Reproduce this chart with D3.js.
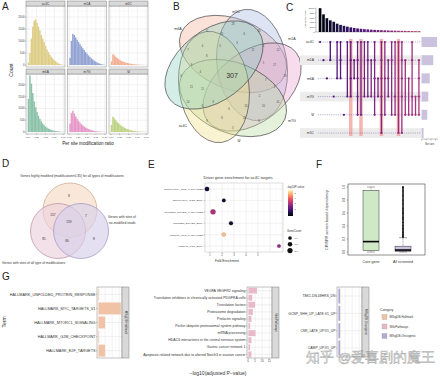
<!DOCTYPE html>
<html><head><meta charset="utf-8">
<script src="https://cdn.jsdelivr.net/npm/d3@7"></script>
<style>body{margin:0;background:#fff}svg{display:block}text{font-family:"Liberation Sans",Arial,sans-serif}</style>
</head><body><svg id="c" width="440" height="378"></svg>
<script>
// ---------------- DATA ----------------
// Panel A
const modNames = ["ac4C","m1A","m5C","m6A","m7G","Ψ"];
const histAc4C = [100,500,1100,1600,1850,1900,1750,1600,1450,1250,1100,950,800,650,540,440,350,280,210,160,110,75,45,25,10];
const histM1A  = [300,1000,1300,1250,1150,1050,960,870,780,700,620,540,470,400,340,280,230,185,145,110,80,55,35,20,8];
const histM5C  = [150,450,400,340,290,245,205,170,145,120,100,85,70,58,47,38,30,23,17,12,9,6,4,2,1];
const histM6A  = [1400,2400,2050,1650,1300,1050,850,690,560,450,360,290,230,185,145,115,90,70,55,42,32,23,15,9,4];
const histM7G  = [350,800,900,780,660,560,470,395,330,275,228,188,154,125,100,80,63,49,37,28,20,14,9,5,2];
const histPsi  = [300,650,580,500,430,365,310,262,220,184,153,126,103,84,68,54,43,33,25,19,14,10,6,3,1];
const histBinWidth = 0.04;
const countTicks = [0,500,1000,1500,2000];
const ratioTicks = [0,0.25,0.5,0.75,1];
const ratioTickLabels = ["0.00","0.25","0.50","0.75","1.00"];
// Panel B
const vennSets = ["m5C","m1A","m7G","Ψ","ac4C","m6A"];
const vennCenterCount = 307;
const vennSmallCounts = ["28","35","12","19","41","8","5","9","14","3","7","11","6","4","17","2","10","13","8","6","21","9","4","15","3","12","5","7","2","16","6","9","11","4","8","5"];
// Panel C
const upsetSets = ["ac4C","m1A","m6A","m7G","Ψ","m5C"];
const upsetSetSizes = [16500,12500,8800,7200,6100,2200];
const upsetMembers = ["0","1","2","01","3","02","012","4","03","0123","12","01234","04","023","013","13","0124","23","012345","024","123","014","034","05","01235","14","24","0134","34","1234"];
const upsetSizes = [10000,7400,5800,4900,4300,3500,3000,2600,2250,1950,1700,1500,1350,1200,1080,980,900,830,770,710,660,610,570,530,490,460,430,400,370,350];
const upsetTicks = [0,2000,4000,6000,8000,10000];
// Panel D
const dCounts = [["8","top"],["157","topleft"],["7","topright"],["159","all"],["81","left"],["80","leftright"],["8","right"]];
// Panel E
const eTerms = ["ENRICHCITY_DON_PANCANCER","ENRICHCITY_DON_BRCA","INTOGEN_DRIVER_PANCANCER","INTOGEN_DRIVER_BRCA","COSMIC_CGC_PANCANCER","COSMIC_CGC_BRCA"];
const eFold = [0.75,2.15,1.25,2.75,2.15,6.75];
const eLogP = [1.1,1.0,3.0,1.1,4.9,2.7];
const eCount = [1.5,1.0,2.0,1.2,1.2,1.0];
const eFoldTicks = [1,2,3,4,5];
const eColorTicks = [2,3,4,5];
const eSizeTicks = [1.0,1.5,2.0];
// Panel F
const fGroups = ["Core gene","All screened"];
const fStats = [ {lo:0.0,q1:0.02,med:0.16,q3:0.95,hi:1.0}, {lo:0.0,q1:0.01,med:0.03,q3:0.09,hi:0.22} ];
const fOutliers = [0.23,0.24,0.25,0.27,0.28,0.30,0.31,0.33,0.35,0.36,0.38,0.40,0.41,0.43,0.45,0.46,0.48,0.50,0.52,0.53,0.55,0.57,0.59,0.60,0.62,0.64,0.66,0.67,0.69,0.71,0.73,0.75,0.77,0.79,0.81,0.83,0.85,0.87,0.89,0.91,0.93,0.95,0.97,0.99,1.0];
const fTicks = [0,0.2,0.4,0.6,0.8,1.0];
// Panel G
const gHallTerms = ["HALLMARK_UNFOLDED_PROTEIN_RESPONSE","HALLMARK_MYC_TARGETS_V1","HALLMARK_MTORC1_SIGNALING","HALLMARK_G2M_CHECKPOINT","HALLMARK_E2F_TARGETS"];
const gHallVals = [0.8,16.3,5.0,0.8,5.0];
const gWikiTerms = ["VEGFA VEGFR2 signaling","Translation inhibitors in chronically activated PDGFRA cells","Translation factors","Proteasome degradation","Prolactin signaling","Parkin ubiquitin proteasomal system pathway","mRNA processing","HDAC6 interactions in the central nervous system","Gastric cancer network 1","Apoptosis related network due to altered Notch3 in ovarian cancer"];
const gWikiVals = [6.4,3.0,5.0,3.5,2.5,1.5,5.5,2.5,1.5,2.5];
const gOncoTerms = ["TBK1.DN.48HRS_DN","GCNP_SHH_UP_LATE.V1_UP","CSR_LATE_UP.V1_UP","CAMP_UP.V1_UP"];
const gOncoVals = [1.6,1.6,1.6,1.6];
const gTicks = [0,5,10,15];
const gCategories = ["MSigDB-Hallmark","WikiPathways","MSigDB-Oncogenic"];

// ---------------- DRAW ----------------
const svg = d3.select("#c");
function T(g,x,y,s,size,o={}){
  const t=g.append("text").attr("x",x).attr("y",y).text(s).attr("font-size",size)
    .attr("fill",o.fill||"#222").attr("text-anchor",o.anchor||"start");
  if(o.rot!==undefined) t.attr("transform",`rotate(${o.rot},${x},${y})`);
  if(o.weight) t.attr("font-weight",o.weight);
  if(o.base) t.attr("dominant-baseline",o.base);
  return t;
}
[["A",2,10],["B",173,10],["C",286,11],["D",2,167],["E",148,168],["F",316,168],["G",2,280]]
  .forEach(d=>T(svg,d[1],d[2],d[0],10));

// ===== Panel A =====
(function(){
  const g=svg.append("g");
  const hists=[histAc4C,histM1A,histM5C,histM6A,histM7G,histPsi];
  const cols=["#dccb82","#8ea0d2","#f2ad8f","#86bfa5","#e593c6","#bcd27f"];
  const colX=[26,67.5,109], pw=39;
  const stripY=[1,69], top=[6,74], bot=[67,134];
  modNames.forEach((m,i)=>{
    const c=i%3, r=Math.floor(i/3);
    const x0=colX[c];
    const x=d3.scaleLinear([-0.05,1.05],[x0,x0+pw]);
    const y=d3.scaleLinear([0,2460],[bot[r]-2,top[r]]);
    g.append("rect").attr("x",x0).attr("y",top[r]).attr("width",pw).attr("height",bot[r]-top[r]).attr("fill","#fff");
    [0.125,0.375,0.625,0.875].forEach(v=>g.append("line").attr("x1",x(v)).attr("x2",x(v)).attr("y1",top[r]).attr("y2",bot[r]).attr("stroke","#f0f0f0").attr("stroke-width",0.3));
    [250,750,1250,1750,2250].forEach(v=>g.append("line").attr("x1",x0).attr("x2",x0+pw).attr("y1",y(v)).attr("y2",y(v)).attr("stroke","#f0f0f0").attr("stroke-width",0.3));
    ratioTicks.forEach(v=>g.append("line").attr("x1",x(v)).attr("x2",x(v)).attr("y1",top[r]).attr("y2",bot[r]).attr("stroke","#e3e3e3").attr("stroke-width",0.45));
    countTicks.forEach(v=>g.append("line").attr("x1",x0).attr("x2",x0+pw).attr("y1",y(v)).attr("y2",y(v)).attr("stroke","#e3e3e3").attr("stroke-width",0.45));
    hists[i].forEach((v,b)=>{
      g.append("rect").attr("x",x(b*histBinWidth)).attr("width",x((b+1)*histBinWidth)-x(b*histBinWidth)+0.1)
        .attr("y",y(v)).attr("height",y(0)-y(v)).attr("fill",cols[i]).attr("opacity",0.95);
    });
    g.append("rect").attr("x",x0).attr("y",top[r]).attr("width",pw).attr("height",bot[r]-top[r]).attr("fill","none").attr("stroke","#8a8a8a").attr("stroke-width",0.5);
    g.append("rect").attr("x",x0).attr("y",stripY[r]).attr("width",pw).attr("height",5).attr("fill","#d9d9d9").attr("stroke","#666").attr("stroke-width",0.4);
    T(g,x0+pw/2,stripY[r]+3.8,m,3.2,{anchor:"middle",fill:"#333"});
    if(c===0){
      countTicks.forEach(v=>{
        g.append("line").attr("x1",x0-1).attr("x2",x0).attr("y1",y(v)).attr("y2",y(v)).attr("stroke","#444").attr("stroke-width",0.3);
        T(g,x0-1.5,y(v)+1,String(v),2.8,{anchor:"end",fill:"#444"});
      });
    }
    if(r===1){
      ratioTicks.forEach((v,k)=>{
        g.append("line").attr("x1",x(v)).attr("x2",x(v)).attr("y1",bot[r]).attr("y2",bot[r]+1).attr("stroke","#444").attr("stroke-width",0.3);
        T(g,x(v),bot[r]+3.6,ratioTickLabels[k],2.4,{anchor:"middle",fill:"#444"});
      });
    }
  });
  T(g,13,70,"Count",5,{anchor:"middle",rot:-90});
  T(g,88,145,"Per site modification ratio",4.6,{anchor:"middle"});
})();

// ===== Panel B =====
(function(){
  const g=svg.append("g");
  const cx=233, cy=76;
  const angles=[-90,-30,30,90,150,-150];
  const cols=["#f2b49c","#a9b7e2","#e8a3cf","#b7dba0","#f0df8a","#8fd0c0"];
  vennSets.forEach((s,i)=>{
    const a=angles[i]*Math.PI/180, d=22;
    g.append("ellipse").attr("rx",56).attr("ry",35)
      .attr("transform",`translate(${cx+d*Math.cos(a)},${cy+d*Math.sin(a)}) rotate(${angles[i]+112})`)
      .attr("fill",cols[i]).attr("fill-opacity",0.38).attr("stroke","#3a3a3a").attr("stroke-width",0.6);
  });
  const lab=[[236,13],[292,40],[292,122],[239,142],[183,127],[178,30]];
  vennSets.forEach((s,i)=>T(g,lab[i][0],lab[i][1],s,3.6,{anchor:"middle",fill:"#333"}));
  T(g,232,78,String(vennCenterCount),7,{anchor:"middle",fill:"#333"});
  vennSmallCounts.forEach((v,k)=>{
    const ring=Math.floor(k/12), idx=k%12;
    const rr=[52,43,33][ring], off=[0,15,7][ring];
    const a=(idx*30-90+off)*Math.PI/180;
    T(g,cx+rr*Math.cos(a),cy+rr*Math.sin(a)+1,v,2.6,{anchor:"middle",fill:"#444"});
  });
})();

// ===== Panel C =====
(function(){
  const g=svg.append("g");
  const idx=d3.range(upsetMembers.length);
  const x=d3.scaleBand(idx,[318,421]).padding(0.22);
  const y=d3.scaleLinear([0,10500],[32,7]);
  const col=i=>d3.interpolateMagma(0.02+0.55*i/(idx.length-1));
  const lineCol=i=>d3.interpolateMagma(0.22+0.25*i/(idx.length-1));
  const hl=[9,12,18,23];
  const rowY=d3.scalePoint(upsetSets,[42,133]);
  [1,3,5].forEach(r=>g.append("rect").attr("x",300).attr("y",rowY(upsetSets[r])-4.8).attr("width",121).attr("height",9.6).attr("fill","#ececec"));
  upsetSizes.forEach((v,i)=>g.append("rect").attr("x",x(i)).attr("width",x.bandwidth()).attr("y",y(v)).attr("height",y(0)-y(v)).attr("fill",col(i)));
  g.append("line").attr("x1",316).attr("x2",316).attr("y1",y(0)).attr("y2",y(10000)).attr("stroke","#333").attr("stroke-width",0.3);
  g.append("line").attr("x1",316).attr("x2",421).attr("y1",y(0)).attr("y2",y(0)).attr("stroke","#333").attr("stroke-width",0.3);
  upsetTicks.forEach(v=>{
    g.append("line").attr("x1",315).attr("x2",316).attr("y1",y(v)).attr("y2",y(v)).attr("stroke","#333").attr("stroke-width",0.3);
    T(g,314.5,y(v)+0.8,String(v),2.2,{anchor:"end",fill:"#333"});
  });
  T(g,306,19,"Intersection size",2.4,{anchor:"middle",rot:-90,fill:"#333"});
  hl.forEach(i=>g.append("rect").attr("x",x(i)-0.4).attr("width",x.bandwidth()+0.8).attr("y",rowY(upsetSets[0])-3).attr("height",rowY(upsetSets[5])-rowY(upsetSets[0])+6).attr("fill","#f3a29c").attr("opacity",0.8));
  upsetSets.forEach(s=>g.append("line").attr("x1",318).attr("x2",421).attr("y1",rowY(s)).attr("y2",rowY(s)).attr("stroke","#4b2a7a").attr("stroke-width",0.35).attr("stroke-dasharray","1.2,1"));
  upsetMembers.forEach((m,i)=>{
    const rows=m.split("").map(Number);
    const ys=rows.map(r=>rowY(upsetSets[r]));
    const cxp=x(i)+x.bandwidth()/2;
    g.append("line").attr("x1",cxp).attr("x2",cxp).attr("y1",d3.min(ys)).attr("y2",d3.max(ys)).attr("stroke",lineCol(i)).attr("stroke-width",1.3);
    ys.forEach(yy=>g.append("circle").attr("cx",cxp).attr("cy",yy).attr("r",1.1).attr("fill",lineCol(i)));
  });
  upsetSets.forEach(s=>T(g,314,rowY(s)+1.2,s,3.4,{anchor:"end",fill:"#333"}));
  const sx=d3.scaleLinear([0,17500],[421.5,438]);
  upsetSetSizes.forEach((v,i)=>g.append("rect").attr("x",sx(0)).attr("y",rowY(upsetSets[i])-5).attr("width",sx(v)-sx(0)).attr("height",10).attr("fill","#cbc3de"));
  g.append("line").attr("x1",sx(0)).attr("x2",438).attr("y1",139).attr("y2",139).attr("stroke","#333").attr("stroke-width",0.3);
  [0,5000,10000,15000].forEach(v=>g.append("line").attr("x1",sx(v)).attr("x2",sx(v)).attr("y1",139).attr("y2",140.5).attr("stroke","#333").attr("stroke-width",0.3));
  T(g,429.5,145,"Set size",2.6,{anchor:"middle",fill:"#333"});
})();

// ===== Panel D =====
(function(){
  const g=svg.append("g");
  const circ={top:[70,210,27,"#f6dcc6","#c9a58a"],left:[58,231,27.5,"#ecd1dd","#b48ca2"],right:[81,231,27.5,"#d7d0ea","#9d92c0"]};
  ["top","left","right"].forEach(k=>{const c=circ[k];
    g.append("circle").attr("cx",c[0]).attr("cy",c[1]).attr("r",c[2]).attr("fill",c[3]).attr("fill-opacity",0.65).attr("stroke",c[4]).attr("stroke-width",0.7);});
  const pos={top:[69,197],topleft:[53,216],topright:[86,217],all:[69,223],left:[44,240],leftright:[67,242],right:[94,240]};
  dCounts.forEach(d=>T(g,pos[d[1]][0],pos[d[1]][1],d[0],3.2,{anchor:"middle",fill:"#333"}));
  T(g,72,176.5,"Genes highly modified (modification>0.35) for all types of modifications",3.3,{anchor:"middle",fill:"#333"});
  T(g,108,218,"Genes with sites of",3.3,{fill:"#333"});
  T(g,109,224,"no-modified reads",3.3,{fill:"#333"});
  T(g,2,264,"Genes with sites of all type of modifications",3.3,{fill:"#333"});
})();

// ===== Panel E =====
(function(){
  const g=svg.append("g");
  const x0=205,x1=283,y0=183,y1=252;
  const x=d3.scaleLinear([1,5],[210,258]);
  const y=d3.scalePoint(eTerms,[189,246]);
  const color=d3.scaleSequential(v=>d3.interpolateMagma(v)).domain([0.6,5.6]);
  const rs=d3.scaleSqrt([0,2],[0,2.6]);
  g.append("rect").attr("x",x0).attr("y",y0).attr("width",x1-x0).attr("height",y1-y0).attr("fill","#fff").attr("stroke","#bdbdbd").attr("stroke-width",0.5);
  [1.5,2.5,3.5,4.5,5.5,6.5].forEach(v=>g.append("line").attr("x1",x(v)).attr("x2",x(v)).attr("y1",y0).attr("y2",y1).attr("stroke","#f2f2f2").attr("stroke-width",0.3));
  [1,2,3,4,5,6,7].forEach(v=>g.append("line").attr("x1",x(v)).attr("x2",x(v)).attr("y1",y0).attr("y2",y1).attr("stroke","#e3e3e3").attr("stroke-width",0.45));
  eTerms.forEach(t=>g.append("line").attr("x1",x0).attr("x2",x1).attr("y1",y(t)).attr("y2",y(t)).attr("stroke","#e3e3e3").attr("stroke-width",0.45));
  eTerms.forEach((t,i)=>{
    g.append("circle").attr("cx",x(eFold[i])).attr("cy",y(t)).attr("r",rs(eCount[i])).attr("fill",color(eLogP[i])).attr("stroke","#333").attr("stroke-width",0.15);
    g.append("line").attr("x1",x0-1).attr("x2",x0).attr("y1",y(t)).attr("y2",y(t)).attr("stroke","#444").attr("stroke-width",0.3);
    T(g,x0-1.5,y(t)+0.9,t,2.5,{anchor:"end",fill:"#444"});
  });
  eFoldTicks.forEach(v=>{
    g.append("line").attr("x1",x(v)).attr("x2",x(v)).attr("y1",y1).attr("y2",y1+1).attr("stroke","#444").attr("stroke-width",0.3);
    T(g,x(v),y1+3.8,String(v),2.6,{anchor:"middle",fill:"#444"});
  });
  T(g,227,262,"Fold Enrichment",3.3,{anchor:"middle",fill:"#333"});
  T(g,238,179,"Driver gene enrichment for ac4C targets",3.9,{anchor:"middle",fill:"#333"});
  T(g,287,188,"-log10P-value",2.8,{fill:"#333"});
  const defs=svg.append("defs");
  const lg=defs.append("linearGradient").attr("id","mg").attr("x1",0).attr("x2",0).attr("y1",1).attr("y2",0);
  d3.range(0,1.01,0.1).forEach(t=>lg.append("stop").attr("offset",t).attr("stop-color",d3.interpolateMagma(t*0.98)));
  const cy=d3.scaleLinear([0.6,5.6],[216,190]);
  g.append("rect").attr("x",288).attr("y",190).attr("width",5).attr("height",26).attr("fill","url(#mg)");
  eColorTicks.forEach(v=>T(g,294.5,cy(v)+0.9,String(v),2.4,{fill:"#444"}));
  T(g,287,232,"GeneCount",2.8,{fill:"#333"});
  eSizeTicks.forEach((v,i)=>{
    const yy=238+i*6.3;
    g.append("circle").attr("cx",290).attr("cy",yy).attr("r",rs(v)).attr("fill","#111");
    T(g,294.5,yy+0.9,v.toFixed(1),2.4,{fill:"#444"});
  });
})();

// ===== Panel F =====
(function(){
  const g=svg.append("g");
  const y=d3.scaleLinear([0,1],[252,187]);
  const xs=d3.scalePoint(fGroups,[371,403]);
  const fills=["#cfe8c6","#cdbfe0"];
  g.append("rect").attr("x",348).attr("y",184).attr("width",77).attr("height",71).attr("fill","none").attr("stroke","#222").attr("stroke-width",0.5);
  fTicks.forEach(v=>{
    g.append("line").attr("x1",346.5).attr("x2",348).attr("y1",y(v)).attr("y2",y(v)).attr("stroke","#222").attr("stroke-width",0.3);
    T(g,344.5,y(v),v.toFixed(1),2.8,{anchor:"middle",rot:-90,fill:"#333"});
  });
  fGroups.forEach((gname,i)=>{
    const s=fStats[i], cx=xs(gname), w=16;
    g.append("line").attr("x1",cx).attr("x2",cx).attr("y1",y(s.hi)).attr("y2",y(s.q3)).attr("stroke","#222").attr("stroke-width",0.4).attr("stroke-dasharray","1,0.6");
    g.append("line").attr("x1",cx).attr("x2",cx).attr("y1",y(s.q1)).attr("y2",y(s.lo)).attr("stroke","#222").attr("stroke-width",0.4).attr("stroke-dasharray","1,0.6");
    [s.hi,s.lo].forEach(v=>g.append("line").attr("x1",cx-4).attr("x2",cx+4).attr("y1",y(v)).attr("y2",y(v)).attr("stroke","#222").attr("stroke-width",0.4));
    g.append("rect").attr("x",cx-w/2).attr("y",y(s.q3)).attr("width",w).attr("height",y(s.q1)-y(s.q3)).attr("fill",fills[i]).attr("stroke","#222").attr("stroke-width",0.45);
    g.append("line").attr("x1",cx-w/2).attr("x2",cx+w/2).attr("y1",y(s.med)).attr("y2",y(s.med)).attr("stroke","#000").attr("stroke-width",1.6);
    T(g,cx,262.5,gname,3.6,{anchor:"middle",fill:"#333"});
  });
  fOutliers.forEach(v=>g.append("circle").attr("cx",xs("All screened")).attr("cy",y(v)).attr("r",0.9).attr("fill","#111"));
  T(g,328,220,"CRISPR screen based dependency",3.8,{anchor:"middle",rot:-90,fill:"#333"});
})();

// ===== Panel G =====
(function(){
  const g=svg.append("g");
  function facet(terms,vals,fx,fy0,fy1,fill,strip,labSize,showTicks){
    const w=25;
    const x=d3.scaleLinear([-0.8,17],[fx,fx+w]);
    const y=d3.scaleBand(terms,[fy0,fy1]).paddingInner(0.12).paddingOuter(0.08);
    g.append("rect").attr("x",fx).attr("y",fy0).attr("width",w).attr("height",fy1-fy0).attr("fill","#fff");
    [2.5,7.5,12.5].forEach(v=>g.append("line").attr("x1",x(v)).attr("x2",x(v)).attr("y1",fy0).attr("y2",fy1).attr("stroke","#f0f0f0").attr("stroke-width",0.3));
    gTicks.forEach(v=>g.append("line").attr("x1",x(v)).attr("x2",x(v)).attr("y1",fy0).attr("y2",fy1).attr("stroke","#e0e0e0").attr("stroke-width",0.45));
    terms.forEach(t=>g.append("line").attr("x1",fx).attr("x2",fx+w).attr("y1",y(t)+y.bandwidth()/2).attr("y2",y(t)+y.bandwidth()/2).attr("stroke","#e0e0e0").attr("stroke-width",0.45));
    terms.forEach((t,i)=>{
      g.append("rect").attr("x",x(0)).attr("y",y(t)).attr("width",x(vals[i])-x(0)).attr("height",y.bandwidth()).attr("fill",fill).attr("stroke","#fff").attr("stroke-width",0.3);
      g.append("line").attr("x1",fx-1).attr("x2",fx).attr("y1",y(t)+y.bandwidth()/2).attr("y2",y(t)+y.bandwidth()/2).attr("stroke","#444").attr("stroke-width",0.3);
      T(g,fx-1.5,y(t)+y.bandwidth()/2+labSize*0.35,t,labSize,{anchor:"end",fill:"#333"});
    });
    g.append("rect").attr("x",fx).attr("y",fy0).attr("width",w).attr("height",fy1-fy0).attr("fill","none").attr("stroke","#888").attr("stroke-width",0.5);
    g.append("rect").attr("x",fx+w).attr("y",fy0).attr("width",7).attr("height",fy1-fy0).attr("fill","#d9d9d9").attr("stroke","#666").attr("stroke-width",0.4);
    T(g,fx+w+3.5,(fy0+fy1)/2,strip,3,{anchor:"middle",rot:90,base:"central",fill:"#333"});
    if(showTicks) gTicks.forEach(v=>{
      g.append("line").attr("x1",x(v)).attr("x2",x(v)).attr("y1",fy1).attr("y2",fy1+1).attr("stroke","#444").attr("stroke-width",0.3);
      T(g,x(v),fy1+4,String(v),2.8,{anchor:"middle",fill:"#444"});
    });
  }
  const catFill=["#f1c3a6","#eab9c9","#b3a9d3"];
  facet(gHallTerms,gHallVals,97,287,358,catFill[0],"MSigDB Hallmark",3.8,false);
  facet(gWikiTerms,gWikiVals,247,287,358,catFill[1],"WikiPathways",3.5,true);
  facet(gOncoTerms,gOncoVals,337,287,357,catFill[2],"MSigDB Oncogenic",3.4,false);
  T(g,6,322,"Term",5,{anchor:"middle",rot:-90,fill:"#333"});
  T(g,218,375,"\u2212log10(adjusted P\u2212value)",5,{anchor:"middle",fill:"#333"});
  T(g,380,311,"Category",3.3,{fill:"#333"});
  gCategories.forEach((c,i)=>{
    const yy=317+i*9.5;
    g.append("rect").attr("x",382).attr("y",yy-2.5).attr("width",5).attr("height",5).attr("fill",catFill[i]).attr("stroke","#999").attr("stroke-width",0.3);
    T(g,389.5,yy+1,c,3,{fill:"#333"});
  });
})();

// watermark
T(svg,306,362,"知乎 @爱喜剧的魔王",13.5,{fill:"rgba(255,255,255,0.55)"}).attr("stroke","rgba(110,110,110,0.55)").attr("stroke-width",0.6).attr("font-family",'"Noto Sans CJK SC",sans-serif');
</script></body></html>
